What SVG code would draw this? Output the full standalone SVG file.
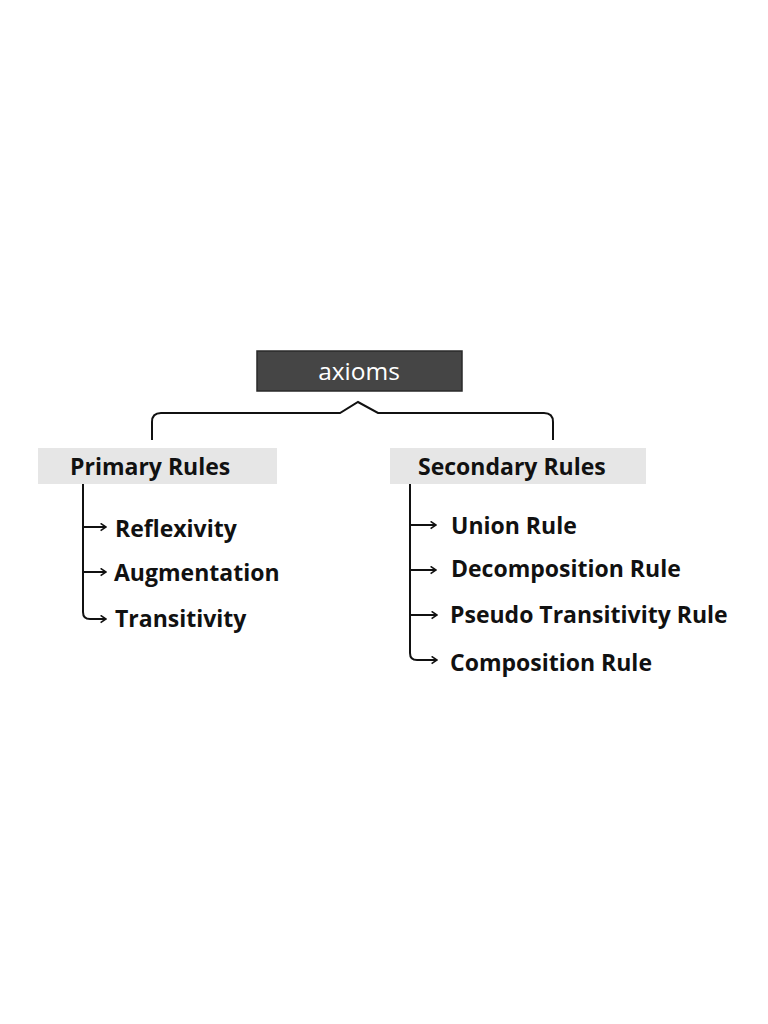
<svg xmlns="http://www.w3.org/2000/svg" width="768" height="1024" viewBox="0 0 768 1024">
<defs>
<marker id="arr" viewBox="0 0 10 10" refX="9" refY="5" markerWidth="9" markerHeight="9" orient="auto" markerUnits="userSpaceOnUse">
<path d="M3,1 L9,5 L3,9" fill="none" stroke="#111" stroke-width="1.8"/>
</marker>
<style>
.lbl{font-family:"Open Sans","Noto Sans",sans-serif;font-weight:bold;font-size:23px;fill:#111}
.hdr{fill:#e6e6e6}
.ln{fill:none;stroke:#111;stroke-width:2}
</style>
</defs>
<rect width="768" height="1024" fill="#fff"/>
<g id="axioms">
<rect x="257" y="351" width="205" height="40" fill="#454545" stroke="#2a2a2a" stroke-width="1.5"/>
<text x="359" y="380" text-anchor="middle" font-family="Open Sans, Noto Sans, sans-serif" font-size="24.5" fill="#fff">axioms</text>
</g>
<g id="primary">
<rect class="hdr" x="38" y="448" width="239" height="36"/>
<text class="lbl" x="70" y="475">Primary Rules</text>
</g>
<g id="secondary">
<rect class="hdr" x="390" y="448" width="256" height="36"/>
<text class="lbl" x="418" y="475">Secondary Rules</text>
</g>
<g id="reflexivity"><text class="lbl" x="115" y="537">Reflexivity</text></g>
<g id="augmentation"><text class="lbl" x="114" y="581">Augmentation</text></g>
<g id="transitivity"><text class="lbl" x="115" y="627">Transitivity</text></g>
<g id="union"><text class="lbl" x="451" y="534">Union Rule</text></g>
<g id="decomposition"><text class="lbl" x="451" y="577">Decomposition Rule</text></g>
<g id="pseudo"><text class="lbl" x="450" y="623">Pseudo Transitivity Rule</text></g>
<g id="composition"><text class="lbl" x="450" y="671">Composition Rule</text></g>
<g id="connectors">
<path class="ln" d="M152,440 V422 Q152,413 161,413 H340 L358,402 L378,413 H544 Q553,413 553,422 V440"/>
<path class="ln" d="M83,484 V612 Q83,619 90,619 H106" marker-end="url(#arr)"/>
<path class="ln" d="M83,527 H106" marker-end="url(#arr)"/>
<path class="ln" d="M83,572 H106" stroke-width="1.4" marker-end="url(#arr)"/>
<path class="ln" d="M410,484 V653 Q410,660 417,660 H437" marker-end="url(#arr)"/>
<path class="ln" d="M410,525 H436" marker-end="url(#arr)"/>
<path class="ln" d="M410,570 H436" marker-end="url(#arr)"/>
<path class="ln" d="M410,615 H437" marker-end="url(#arr)"/>
</g>
</svg>
